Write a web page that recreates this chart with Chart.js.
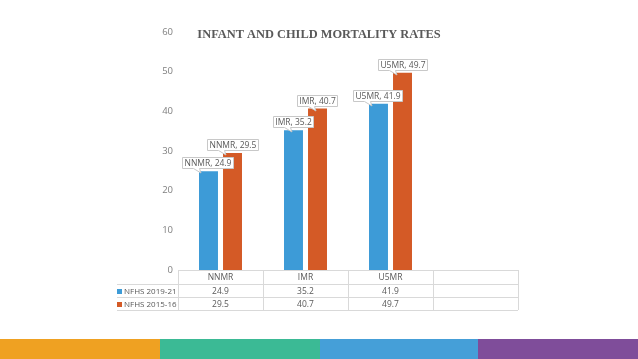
<!DOCTYPE html>
<html>
<head>
<meta charset="utf-8">
<script src="https://cdn.jsdelivr.net/npm/chart.js@4/dist/chart.umd.min.js"></script>
<style>
  body { margin: 0; background: #fff; }
  #wrap { position: absolute; left: 0; top: 0; width: 638px; height: 339px; }
  .stripe { position: absolute; top: 339px; height: 20px; }
</style>
</head>
<body>
<div id="wrap"><canvas id="ctx"></canvas></div>
<div class="stripe" style="left:0;width:160px;background:#EFA122"></div>
<div class="stripe" style="left:160px;width:160px;background:#3BBA95"></div>
<div class="stripe" style="left:320px;width:158px;background:#459FD8"></div>
<div class="stripe" style="left:478px;width:160px;background:#7F4D9A"></div>
<script>
// chart data
const categories = ['NNMR', 'IMR', 'U5MR', ''];
const seriesNames = ['NFHS 2019-21', 'NFHS 2015-16'];
const nfhs2019 = [24.9, 35.2, 41.9, null];
const nfhs2015 = [29.5, 40.7, 49.7, null];
const yMin = 0, yMax = 60, yStep = 10;
const chartTitle = 'INFANT AND CHILD MORTALITY RATES';

const blue = '#3D9BD7';
const orange = '#D45A26';
const txt = '#595959';
const line = '#D9D9D9';
const sans = '"Open Sans", "Noto Sans", sans-serif';

const extras = {
  id: 'extras',
  afterDraw(chart) {
    const c = chart.ctx;
    const area = chart.chartArea;
    const x = chart.scales.x;
    c.save();

    // title
    c.fillStyle = txt;
    c.font = 'bold 12.4px "Liberation Serif", serif';
    c.textAlign = 'center';
    c.textBaseline = 'middle';
    c.fillText(chartTitle, 319, 35);

    // callouts
    c.font = '8.5px ' + sans;
    chart.data.datasets.forEach((ds, i) => {
      const meta = chart.getDatasetMeta(i);
      meta.data.forEach((bar, j) => {
        if (ds.data[j] == null) return;
        const label = categories[j] + ', ' + ds.data[j];
        const w = Math.round(c.measureText(label).width) + 5;
        const h = 11;
        const bottom = Math.round(bar.y) - 3;
        const left = Math.round(bar.x - w / 2);
        const top = bottom - h;
        c.fillStyle = '#fff';
        c.strokeStyle = '#C8C8C8';
        c.lineWidth = 1;
        c.beginPath();
        c.moveTo(left + 0.5, top + 0.5);
        c.lineTo(left + w - 0.5, top + 0.5);
        c.lineTo(left + w - 0.5, bottom + 0.5);
        c.lineTo(left + 17.5, bottom + 0.5);
        c.lineTo(left + 19, bottom + 5);
        c.lineTo(left + 11.5, bottom + 0.5);
        c.lineTo(left + 0.5, bottom + 0.5);
        c.closePath();
        c.fill();
        c.stroke();
        c.fillStyle = txt;
        c.textAlign = 'center';
        c.fillText(label, left + w / 2, top + h / 2 + 1);
      });
    });

    // data table
    const colW = (area.right - area.left) / categories.length;
    const rows = [area.bottom, area.bottom + 14, area.bottom + 27, area.bottom + 40];
    c.strokeStyle = line;
    c.lineWidth = 1;
    c.beginPath();
    c.moveTo(area.left, rows[0] + 0.5);
    c.lineTo(area.right, rows[0] + 0.5);
    for (let r = 1; r < rows.length; r++) {
      c.moveTo(117, rows[r] + 0.5);
      c.lineTo(area.right, rows[r] + 0.5);
    }
    for (let k = 0; k <= categories.length; k++) {
      const px = Math.round(area.left + k * colW) + 0.5;
      c.moveTo(px, rows[0]);
      c.lineTo(px, rows[3]);
    }
    c.stroke();

    c.font = '8.5px ' + sans;
    c.fillStyle = txt;
    c.textAlign = 'center';
    categories.forEach((cat, j) => {
      const cx = x.getPixelForValue(j);
      c.fillText(cat, cx, (rows[0] + rows[1]) / 2 + 1);
      if (nfhs2019[j] != null) c.fillText(String(nfhs2019[j]), cx, (rows[1] + rows[2]) / 2 + 1);
      if (nfhs2015[j] != null) c.fillText(String(nfhs2015[j]), cx, (rows[2] + rows[3]) / 2 + 1);
    });
    // legend keys in the table
    c.font = '8px ' + sans;
    [blue, orange].forEach((col, i) => {
      const cy = (rows[i + 1] + rows[i + 2]) / 2;
      c.fillStyle = col;
      c.fillRect(117, Math.round(cy) - 2, 5, 5);
      c.fillStyle = txt;
      c.textAlign = 'left';
      c.fillText(seriesNames[i], 124, cy + 1);
    });
    c.restore();
  }
};

const chart = new Chart(document.getElementById('ctx'), {
  type: 'bar',
  data: {
    labels: categories,
    datasets: [
      { label: seriesNames[0], data: nfhs2019, backgroundColor: blue },
      { label: seriesNames[1], data: nfhs2015, backgroundColor: orange }
    ]
  },
  options: {
    responsive: true,
    maintainAspectRatio: false,
    animation: false,
    events: [],
    categoryPercentage: 0.565,
    barPercentage: 0.79,
    layout: { padding: { left: 140, right: 120, top: 32, bottom: 69 } },
    plugins: { legend: { display: false }, title: { display: false }, tooltip: { enabled: false } },
    scales: {
      x: { display: false },
      y: {
        min: yMin,
        max: yMax,
        afterFit: (s) => { s.width = 38; },
        grid: { display: false, drawTicks: false, tickLength: 0 },
        border: { display: false },
        ticks: {
          stepSize: yStep,
          padding: 5,
          color: '#7F7F7F',
          font: { family: sans, size: 9.5 }
        }
      }
    }
  },
  plugins: [extras]
});
</script>
</body>
</html>
